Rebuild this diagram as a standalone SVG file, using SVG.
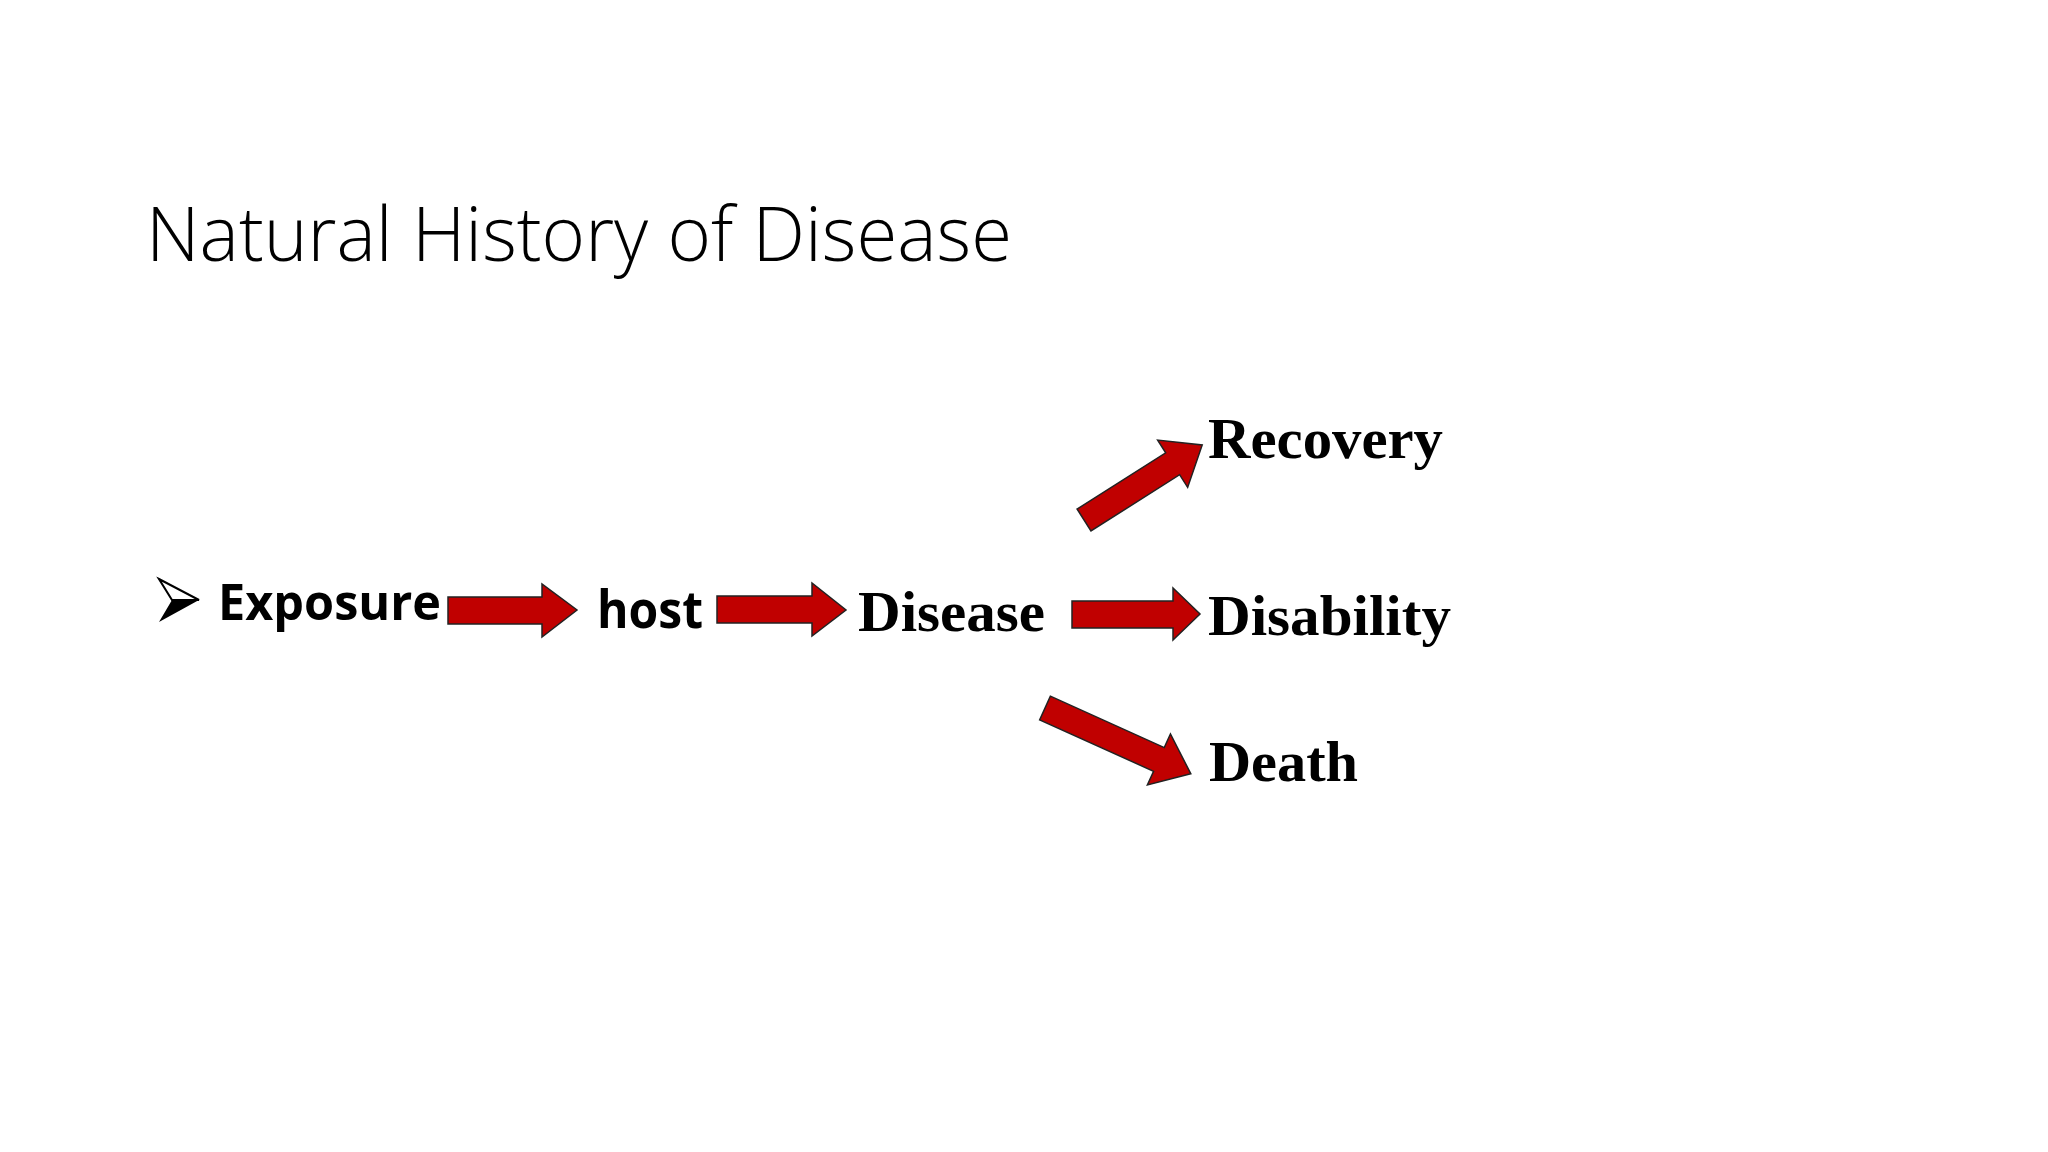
<svg xmlns="http://www.w3.org/2000/svg" width="2048" height="1152" viewBox="0 0 2048 1152">
<style>
.ar{fill:#c00000;stroke:#222;stroke-width:1.5}
.cal{font-family:"Open Sans","Liberation Sans",sans-serif;font-weight:bold;fill:#000}
.tm{font-family:"Liberation Serif",serif;font-weight:bold;fill:#000;font-size:57px}
</style>
<rect width="2048" height="1152" fill="#fff"/>
<text x="146" y="261" font-family="Open Sans, Liberation Sans, sans-serif" font-weight="300" font-size="75" textLength="866" lengthAdjust="spacingAndGlyphs">Natural History of Disease</text>
<g id="bullet"><polygon points="159,579 199,600 159,622 172,600" fill="#000"/><polygon points="159,579 199,600 172,600" fill="#fff" stroke="#000" stroke-width="2"/></g>
<g id="exposure"><text class="cal" x="218" y="620" font-size="50" textLength="223" lengthAdjust="spacingAndGlyphs">Exposure</text></g>
<g id="host"><text class="cal" x="597" y="628" font-size="52" textLength="106" lengthAdjust="spacingAndGlyphs">host</text></g>
<g id="disease"><text class="tm" x="858" y="631" textLength="187" lengthAdjust="spacingAndGlyphs">Disease</text></g>
<g id="recovery"><text class="tm" x="1208" y="458" textLength="235" lengthAdjust="spacingAndGlyphs">Recovery</text></g>
<g id="disability"><text class="tm" x="1208" y="635" textLength="243" lengthAdjust="spacingAndGlyphs">Disability</text></g>
<g id="death"><text class="tm" x="1209" y="781" textLength="149" lengthAdjust="spacingAndGlyphs">Death</text></g>
<g id="connectors">
<polygon class="ar" points="448,597 542,597 542,584 577,610 542,637 542,624 448,624"/>
<polygon class="ar" points="717,596 812,596 812,583 846,610 812,636 812,623 717,623"/>
<polygon class="ar" points="1072,601 1173,601 1173,588 1200,614 1173,640 1173,628 1072,628"/>
<polygon class="ar" transform="translate(1084,520) rotate(-32.4)" points="0,-13 105,-13 105,-28 140,0 105,28 105,13 0,13"/>
<polygon class="ar" transform="translate(1045,708) rotate(24.3)" points="0,-13 125,-13 125,-28 160,0 125,28 125,13 0,13"/>
</g>
</svg>
